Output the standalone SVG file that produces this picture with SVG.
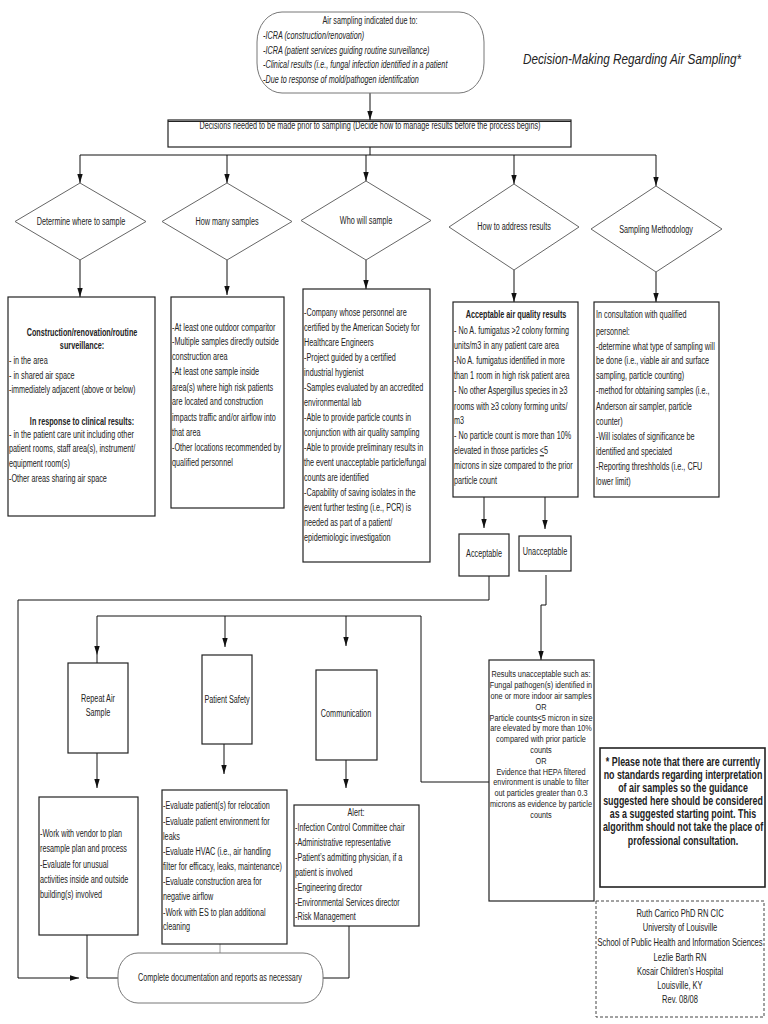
<svg xmlns="http://www.w3.org/2000/svg" width="768" height="1024" viewBox="0 0 768 1024">
<style>
.t{font-family:"Liberation Sans",Arial,sans-serif;font-size:11.5px;fill:#222}
.c{text-anchor:middle}
.b{font-weight:bold}
.i{font-style:italic}
.box{fill:#fff;stroke:#222;stroke-width:1.2}
.dia{fill:#fff;stroke:#666;stroke-width:1}
.rnd{fill:#fff;stroke:#777;stroke-width:1}
.ln{fill:none;stroke:#111;stroke-width:1}
</style>
<defs>
<marker id="ah" viewBox="0 0 10 6" refX="10" refY="3" markerWidth="9" markerHeight="5.4" orient="auto" markerUnits="userSpaceOnUse"><path d="M0,0 L10,3 L0,6 z" fill="#111"/></marker>
</defs>
<rect width="768" height="1024" fill="#fff"/>

<g id="title"><g transform="translate(632,0) scale(0.81,1)"><text class="t i" x="0" y="64" style="text-anchor:middle;font-size:14.5px">Decision-Making Regarding Air Sampling*</text></g></g>

<g id="connectors">
<path class="ln" d="M370,93 V120" marker-end="url(#ah)"/>
<path class="ln" d="M370,147 V155"/>
<path class="ln" d="M80,155 H656"/>
<path class="ln" d="M80,155 V183" marker-end="url(#ah)"/>
<path class="ln" d="M227,155 V183" marker-end="url(#ah)"/>
<path class="ln" d="M366,155 V181" marker-end="url(#ah)"/>
<path class="ln" d="M514,155 V184" marker-end="url(#ah)"/>
<path class="ln" d="M656,155 V186" marker-end="url(#ah)"/>
<path class="ln" d="M80,260 V297" marker-end="url(#ah)"/>
<path class="ln" d="M227,260 V295" marker-end="url(#ah)"/>
<path class="ln" d="M366,260 V289" marker-end="url(#ah)"/>
<path class="ln" d="M514,270 V302" marker-end="url(#ah)"/>
<path class="ln" d="M656,272 V302" marker-end="url(#ah)"/>
<path class="ln" d="M484,497 V528" marker-end="url(#ah)"/>
<path class="ln" d="M545,497 V529" marker-end="url(#ah)"/>
<path class="ln" d="M489,576 V600 H18 V978 H79" marker-end="url(#ah)"/>
<path class="ln" d="M546,575 V605 H541 V660" marker-end="url(#ah)"/>
<path class="ln" d="M489,782 H421 V616 H97"/>
<path class="ln" d="M97,616 V655" marker-end="url(#ah)"/>
<path class="ln" d="M97,655 V663"/>
<path class="ln" d="M225,616 V647" marker-end="url(#ah)"/>
<path class="ln" d="M346,616 V646" marker-end="url(#ah)"/>
<path class="ln" d="M97,753 V788" marker-end="url(#ah)"/>
<path class="ln" d="M224,744 V774" marker-end="url(#ah)"/>
<path class="ln" d="M346,760 V788" marker-end="url(#ah)"/>
<path class="ln" d="M87,935 V978 H118"/>
<path class="ln" d="M220,944 V953" style="stroke:#999"/>
<path class="ln" d="M349,926 V978 H323"/>
</g>

<g id="start">
<rect class="rnd" x="257" y="12" width="227" height="81" rx="25" ry="30"/>
<g transform="translate(370,0) scale(0.63,1)"><text class="t c" x="0" y="24">Air sampling indicated due to:</text></g>
<g transform="translate(263,0) scale(0.63,1)" class="t i">
<text x="0" y="39">-ICRA (construction/renovation)</text>
<text x="0" y="54">-ICRA (patient services guiding routine surveillance)</text>
<text x="0" y="68">-Clinical results (i.e., fungal infection identified in a patient</text>
<text x="0" y="83">-Due to response of mold/pathogen identification</text>
</g>
</g>

<g id="decisions">
<rect class="box" x="168" y="120" width="403" height="27"/>
<line x1="168" y1="121.5" x2="571" y2="121.5" stroke="#222" stroke-width="1"/>
<g transform="translate(370,0) scale(0.63,1)"><text class="t c" x="0" y="129">Decisions needed to be made prior to sampling (Decide how to manage results before the process begins)</text></g>
</g>

<g id="d-where">
<polygon class="dia" points="80,183 146,221.5 80,260 15,221.5"/>
<g transform="translate(81,0) scale(0.63,1)"><text class="t c" x="0" y="225">Determine where to sample</text></g>
</g>
<g id="d-many">
<polygon class="dia" points="227,183 292,221.5 227,260 162,221.5"/>
<g transform="translate(227,0) scale(0.63,1)"><text class="t c" x="0" y="225">How many samples</text></g>
</g>
<g id="d-who">
<polygon class="dia" points="366,181 431,220.5 366,260 301,220.5"/>
<g transform="translate(366,0) scale(0.63,1)"><text class="t c" x="0" y="224">Who will sample</text></g>
</g>
<g id="d-address">
<polygon class="dia" points="514,184 579,227 514,270 449,227"/>
<g transform="translate(514,0) scale(0.63,1)"><text class="t c" x="0" y="230">How to address results</text></g>
</g>
<g id="d-method">
<polygon class="dia" points="656,186 722,229 656,272 591,229"/>
<g transform="translate(656,0) scale(0.63,1)"><text class="t c" x="0" y="233">Sampling Methodology</text></g>
</g>

<g id="b-where">
<rect class="box" x="8" y="297" width="147" height="219"/>
<g transform="translate(82,0) scale(0.63,1)" class="t c b">
<text x="0" y="336">Construction/renovation/routine</text>
<text x="0" y="349">surveillance:</text>
<text x="0" y="425">In response to clinical results:</text>
</g>
<g transform="translate(9,0) scale(0.63,1)" class="t">
<text x="0" y="364">- in the area</text>
<text x="0" y="379">- in shared air space</text>
<text x="0" y="393">-immediately adjacent (above or below)</text>
<text x="0" y="438">- in the patient care unit including other</text>
<text x="0" y="452">patient rooms, staff area(s), instrument/</text>
<text x="0" y="467">equipment room(s)</text>
<text x="0" y="482">-Other areas sharing air space</text>
</g>
</g>

<g id="b-many">
<rect class="box" x="171" y="297" width="113" height="211"/>
<g transform="translate(172,0) scale(0.63,1)" class="t">
<text x="0" y="331">-At least one outdoor comparitor</text>
<text x="0" y="345">-Multiple samples directly outside</text>
<text x="0" y="360">construction area</text>
<text x="0" y="375">-At least one sample inside</text>
<text x="0" y="391">area(s) where high risk patients</text>
<text x="0" y="405">are located and construction</text>
<text x="0" y="421">impacts traffic and/or airflow into</text>
<text x="0" y="436">that area</text>
<text x="0" y="451">-Other locations recommended by</text>
<text x="0" y="466">qualified personnel</text>
</g>
</g>

<g id="b-who">
<rect class="box" x="303" y="289" width="127" height="273"/>
<g transform="translate(304,0) scale(0.63,1)" class="t">
<text x="0" y="316">-Company whose personnel are</text>
<text x="0" y="331">certified by the American Society for</text>
<text x="0" y="346">Healthcare Engineers</text>
<text x="0" y="361">-Project guided by a certified</text>
<text x="0" y="376">industrial hygienist</text>
<text x="0" y="391">-Samples evaluated by an accredited</text>
<text x="0" y="406">environmental lab</text>
<text x="0" y="421">-Able to provide particle counts in</text>
<text x="0" y="436">conjunction with air quality sampling</text>
<text x="0" y="451">-Able to provide preliminary results in</text>
<text x="0" y="466">the event unacceptable particle/fungal</text>
<text x="0" y="481">counts are identified</text>
<text x="0" y="496">-Capability of saving isolates in the</text>
<text x="0" y="511">event further testing (i.e., PCR) is</text>
<text x="0" y="526">needed as part of a patient/</text>
<text x="0" y="541">epidemiologic investigation</text>
</g>
</g>

<g id="b-address">
<rect class="box" x="453" y="302" width="125" height="195"/>
<g transform="translate(516,0) scale(0.63,1)"><text class="t c b" x="0" y="318">Acceptable air quality results</text></g>
<g transform="translate(454,0) scale(0.63,1)" class="t">
<text x="0" y="334">- No A. fumigatus &gt;2 colony forming</text>
<text x="0" y="349">units/m3 in any patient care area</text>
<text x="0" y="364">-No A. fumigatus identified in more</text>
<text x="0" y="379">than 1 room in high risk patient area</text>
<text x="0" y="394">- No other Aspergillus species in ≥3</text>
<text x="0" y="410">rooms with ≥3 colony forming units/</text>
<text x="0" y="424">m3</text>
<text x="0" y="439">- No particle count is more than 10%</text>
<text x="0" y="454">elevated in those particles  <tspan text-decoration="underline">&lt;</tspan>5</text>
<text x="0" y="469">microns in size compared to the prior</text>
<text x="0" y="484">particle count</text>
</g>
</g>

<g id="b-method">
<rect class="box" x="594" y="302" width="125" height="195"/>
<g transform="translate(596,0) scale(0.63,1)" class="t">
<text x="0" y="318">In consultation with qualified</text>
<text x="0" y="335">personnel:</text>
<text x="0" y="350">-determine what type of sampling will</text>
<text x="0" y="364">be done (i.e., viable air and surface</text>
<text x="0" y="379">sampling,  particle counting)</text>
<text x="0" y="394">-method for obtaining samples (i.e.,</text>
<text x="0" y="410">Anderson air sampler, particle</text>
<text x="0" y="425">counter)</text>
<text x="0" y="440">-Will isolates of significance be</text>
<text x="0" y="455">identified and speciated</text>
<text x="0" y="470">-Reporting threshholds (i.e., CFU</text>
<text x="0" y="485">lower limit)</text>
</g>
</g>

<g id="acceptable">
<rect class="box" x="459" y="534" width="50" height="42"/>
<g transform="translate(484,0) scale(0.63,1)"><text class="t c" x="0" y="557">Acceptable</text></g>
</g>
<g id="unacceptable">
<rect class="box" x="519" y="536" width="52" height="35"/>
<g transform="translate(545,0) scale(0.63,1)"><text class="t c" x="0" y="555">Unacceptable</text></g>
</g>

<g id="results">
<rect class="box" x="489" y="660" width="105" height="241"/>
<g transform="translate(541,0) scale(0.77,1)" class="t c" style="font-size:9.5px">
<text x="0" y="677">Results unacceptable such as:</text>
<text x="0" y="688">Fungal pathogen(s) identified in</text>
<text x="0" y="699">one or more indoor air samples</text>
<text x="0" y="710">OR</text>
<text x="0" y="721">Particle counts<tspan text-decoration="underline">&lt;</tspan>5 micron in size</text>
<text x="0" y="731">are elevated by more than 10%</text>
<text x="0" y="742">compared with prior particle</text>
<text x="0" y="753">counts</text>
<text x="0" y="764">OR</text>
<text x="0" y="775">Evidence that HEPA filtered</text>
<text x="0" y="785">environment is unable to filter</text>
<text x="0" y="796">out particles greater than 0.3</text>
<text x="0" y="807">microns as evidence by particle</text>
<text x="0" y="818">counts</text>
</g>
</g>

<g id="repeat">
<rect class="box" x="68" y="663" width="60" height="90"/>
<g transform="translate(98,0) scale(0.63,1)" class="t c">
<text x="0" y="702">Repeat Air</text>
<text x="0" y="716">Sample</text>
</g>
</g>
<g id="safety">
<rect class="box" x="202" y="655" width="50" height="89"/>
<g transform="translate(227,0) scale(0.63,1)"><text class="t c" x="0" y="703">Patient Safety</text></g>
</g>
<g id="communication">
<rect class="box" x="316" y="670" width="61" height="90"/>
<g transform="translate(346,0) scale(0.63,1)"><text class="t c" x="0" y="717">Communication</text></g>
</g>

<g id="b-repeat">
<rect class="box" x="39" y="797" width="99" height="138"/>
<g transform="translate(40,0) scale(0.63,1)" class="t">
<text x="0" y="837">-Work with vendor to plan</text>
<text x="0" y="852">resample plan and process</text>
<text x="0" y="868">-Evaluate for unusual</text>
<text x="0" y="883">activities inside and outside</text>
<text x="0" y="898">building(s) involved</text>
</g>
</g>

<g id="b-safety">
<rect class="box" x="162" y="790" width="125" height="154"/>
<g transform="translate(163,0) scale(0.63,1)" class="t">
<text x="0" y="809">-Evaluate patient(s) for relocation</text>
<text x="0" y="825">-Evaluate patient environment for</text>
<text x="0" y="840">leaks</text>
<text x="0" y="855">-Evaluate HVAC (i.e., air handling</text>
<text x="0" y="870">filter for efficacy, leaks, maintenance)</text>
<text x="0" y="885">-Evaluate construction area for</text>
<text x="0" y="900">negative airflow</text>
<text x="0" y="916">-Work with ES to plan additional</text>
<text x="0" y="930">cleaning</text>
</g>
</g>

<g id="b-alert">
<rect class="box" x="294" y="805" width="125" height="121"/>
<g transform="translate(356,0) scale(0.63,1)"><text class="t c" x="0" y="816">Alert:</text></g>
<g transform="translate(295,0) scale(0.63,1)" class="t">
<text x="0" y="831">-Infection Control Committee chair</text>
<text x="0" y="846">-Administrative representative</text>
<text x="0" y="861">-Patient’s admitting physician, if a</text>
<text x="0" y="876">patient is involved</text>
<text x="0" y="891">-Engineering director</text>
<text x="0" y="906">-Environmental Services director</text>
<text x="0" y="920">-Risk Management</text>
</g>
</g>

<g id="end">
<rect class="rnd" x="118" y="953" width="205" height="50" rx="20" ry="22"/>
<g transform="translate(220,0) scale(0.63,1)"><text class="t c" x="0" y="981">Complete documentation and reports as necessary</text></g>
</g>

<g id="note">
<rect x="600" y="748" width="165" height="139" fill="#fff" stroke="#222" stroke-width="1.6"/>
<g transform="translate(683,0) scale(0.74,1)" class="t c b" style="font-size:12px">
<text x="0" y="766">* Please note that there are currently</text>
<text x="0" y="779">no standards regarding interpretation</text>
<text x="0" y="792">of air samples so the guidance</text>
<text x="0" y="805">suggested here should be considered</text>
<text x="0" y="818">as a suggested starting point.  This</text>
<text x="0" y="831">algorithm should not take the place of</text>
<text x="0" y="845">professional consultation.</text>
</g>
</g>

<g id="credits">
<rect x="596" y="901" width="168" height="116" fill="#fff" stroke="#444" stroke-width="1" stroke-dasharray="3,2"/>
<g transform="translate(680,0) scale(0.72,1)" class="t c" style="font-size:10.5px">
<text x="0" y="917">Ruth Carrico PhD RN CIC</text>
<text x="0" y="931">University of Louisville</text>
<text x="0" y="946">School of Public Health and Information Sciences</text>
<text x="0" y="961">Lezlie  Barth RN</text>
<text x="0" y="975">Kosair Children’s Hospital</text>
<text x="0" y="989">Louisville, KY</text>
<text x="0" y="1003">Rev. 08/08</text>
</g>
</g>
</svg>
